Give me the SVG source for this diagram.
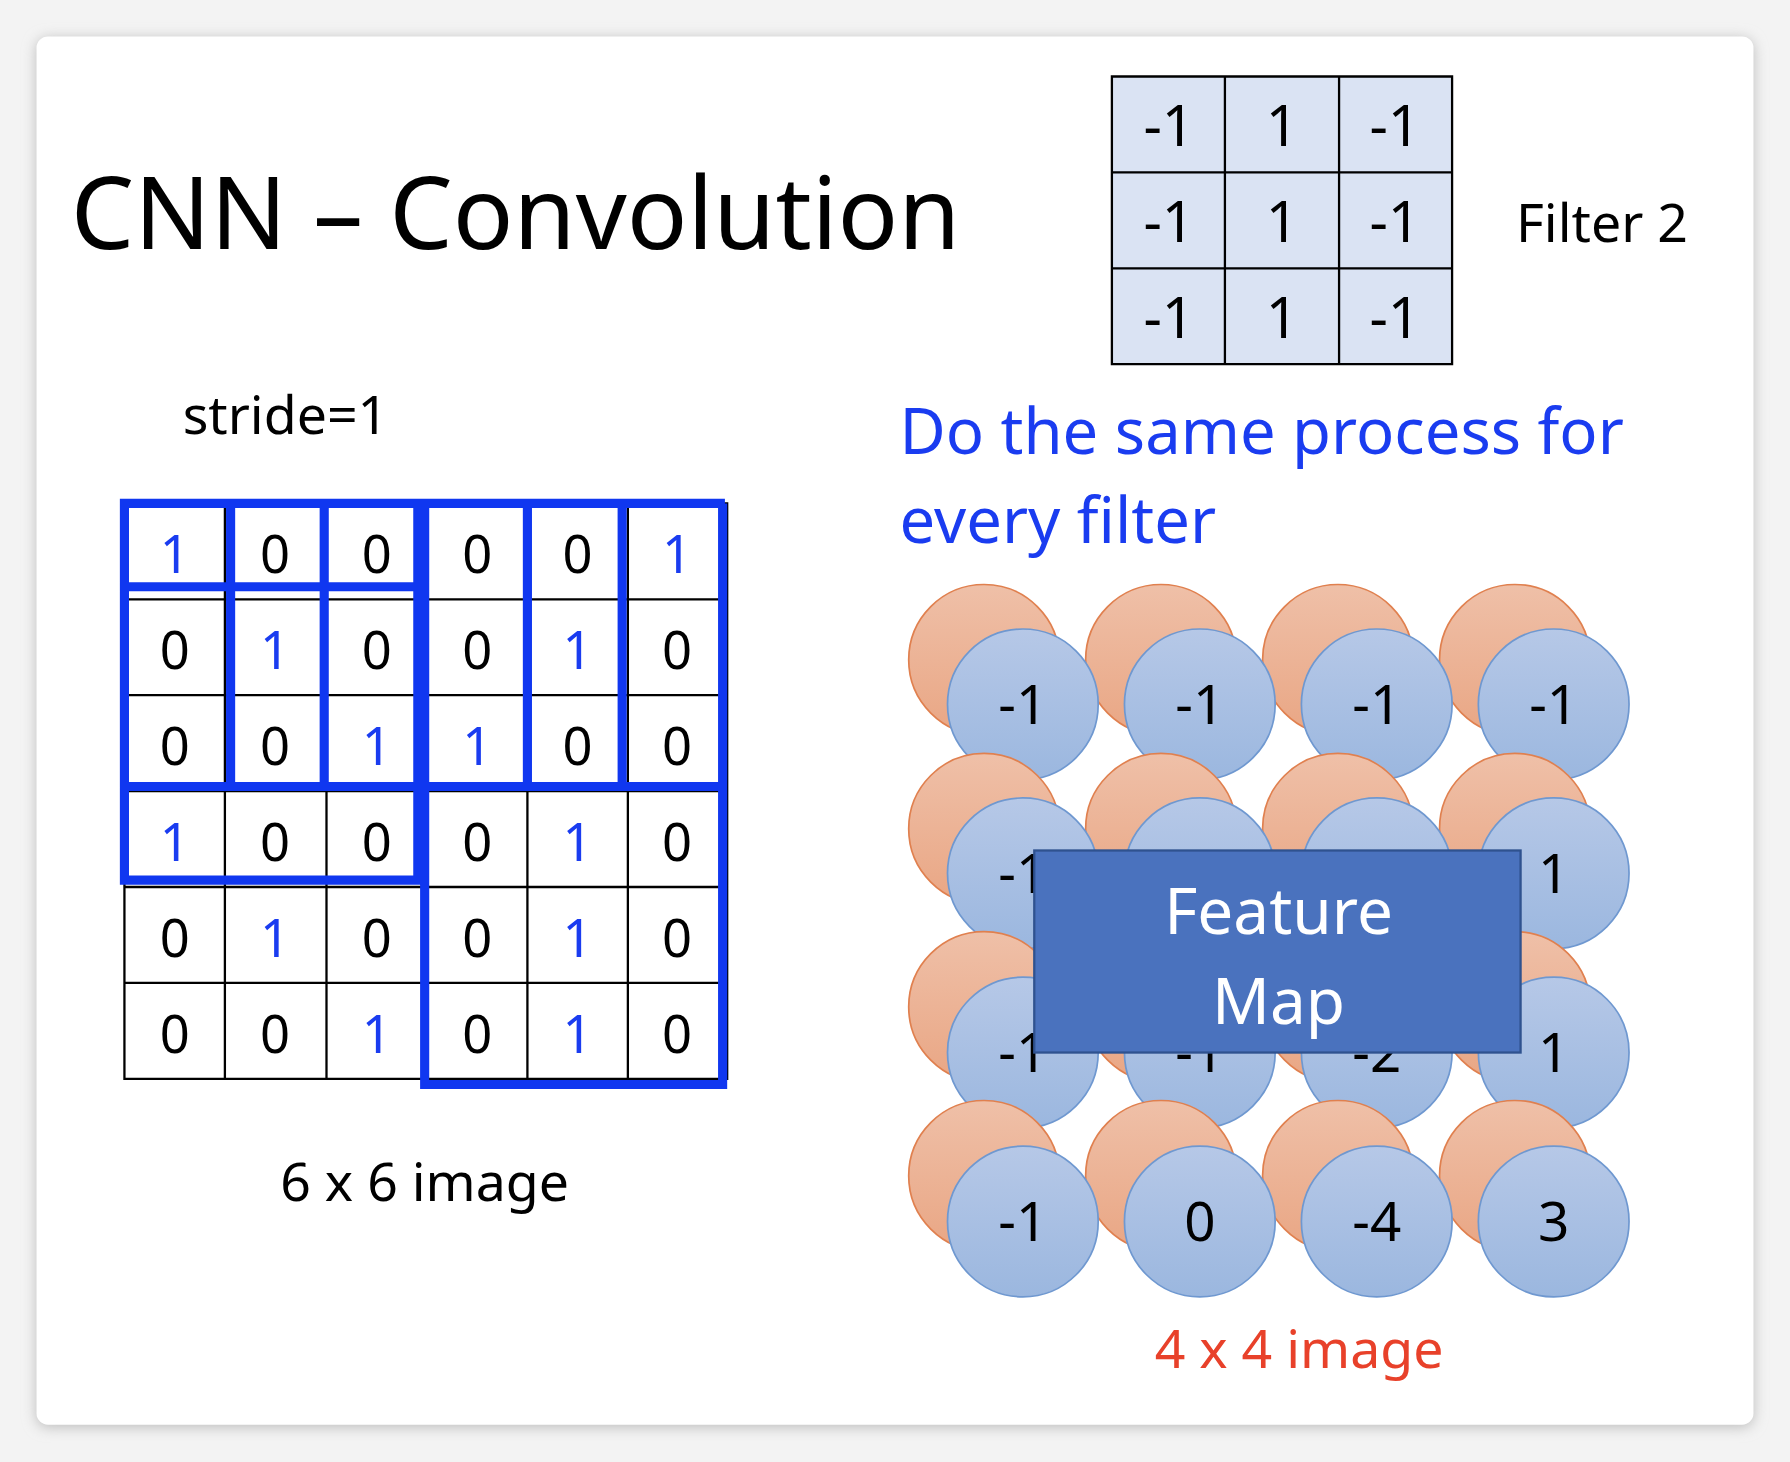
<svg xmlns="http://www.w3.org/2000/svg" width="1790" height="1462" viewBox="0 0 1790 1462">
<defs>
<linearGradient id="og" x1="0" y1="0" x2="0" y2="1"><stop offset="0" stop-color="#efc0a8"/><stop offset="1" stop-color="#e9a684"/></linearGradient>
<linearGradient id="bg" x1="0" y1="0" x2="0" y2="1"><stop offset="0" stop-color="#b6c8e7"/><stop offset="1" stop-color="#9bb7df"/></linearGradient>
<filter id="sh" x="-5%" y="-5%" width="110%" height="110%"><feGaussianBlur stdDeviation="6"/></filter>
</defs>
<style>
text{font-family:"Noto Sans","Liberation Sans",sans-serif}
.c{text-anchor:middle}
.g{fill:none;stroke:#000;stroke-width:2}
.w{fill:none;stroke:#1037f0;stroke-width:8}
.o{fill:url(#og);stroke:#e0804f;stroke-width:1.5}
.b{fill:url(#bg);stroke:#6f98d0;stroke-width:1.5}
.n{font-size:46px;text-anchor:middle}
.bl{fill:#1a3cf0}
</style>
<rect width="1790" height="1462" fill="#f3f3f3"/>
<g transform="scale(1.14158)">
<rect x="32" y="34" width="1504" height="1216" rx="10" fill="#bbb" filter="url(#sh)"/>
<rect x="32" y="32" width="1504" height="1216" rx="10" fill="#fff"/>
<text id="title" x="62" y="218" font-size="88">CNN – Convolution</text>
<g id="filter">
<rect x="974" y="67" width="298" height="252" fill="#dae3f3"/>
<path class="g" d="M974 67H1272V319H974Z M1073 67V319 M1173 67V319 M974 151H1272 M974 235H1272"/>
<g font-size="50" class="c">
<text class="c" x="1024" y="128">-1</text><text class="c" x="1123" y="128">1</text><text class="c" x="1222" y="128">-1</text>
<text class="c" x="1024" y="212">-1</text><text class="c" x="1123" y="212">1</text><text class="c" x="1222" y="212">-1</text>
<text class="c" x="1024" y="296">-1</text><text class="c" x="1123" y="296">1</text><text class="c" x="1222" y="296">-1</text>
</g>
</g>
<text id="filterlabel" x="1328" y="212" font-size="47">Filter 2</text>
<text id="stride" x="160" y="380" font-size="47">stride=1</text>
<g id="image">
<path class="g" d="M109 441H637V945H109Z M197 441V945 M286 441V945 M374 441V945 M462 441V945 M550 441V945 M109 525H637 M109 609H637 M109 693H637 M109 777H637 M109 861H637"/>
<g>
<text class="n bl" x="153" y="502">1</text><text class="n" x="241" y="502">0</text><text class="n" x="330" y="502">0</text><text class="n" x="418" y="502">0</text><text class="n" x="506" y="502">0</text><text class="n bl" x="593" y="502">1</text>
<text class="n" x="153" y="586">0</text><text class="n bl" x="241" y="586">1</text><text class="n" x="330" y="586">0</text><text class="n" x="418" y="586">0</text><text class="n bl" x="506" y="586">1</text><text class="n" x="593" y="586">0</text>
<text class="n" x="153" y="670">0</text><text class="n" x="241" y="670">0</text><text class="n bl" x="330" y="670">1</text><text class="n bl" x="418" y="670">1</text><text class="n" x="506" y="670">0</text><text class="n" x="593" y="670">0</text>
<text class="n bl" x="153" y="754">1</text><text class="n" x="241" y="754">0</text><text class="n" x="330" y="754">0</text><text class="n" x="418" y="754">0</text><text class="n bl" x="506" y="754">1</text><text class="n" x="593" y="754">0</text>
<text class="n" x="153" y="838">0</text><text class="n bl" x="241" y="838">1</text><text class="n" x="330" y="838">0</text><text class="n" x="418" y="838">0</text><text class="n bl" x="506" y="838">1</text><text class="n" x="593" y="838">0</text>
<text class="n" x="153" y="922">0</text><text class="n" x="241" y="922">0</text><text class="n bl" x="330" y="922">1</text><text class="n" x="418" y="922">0</text><text class="n bl" x="506" y="922">1</text><text class="n" x="593" y="922">0</text>
</g>
<path class="w" d="M105 441H635 M109 437V775 M105 771H368 M366 441V775 M109 514H368 M202 441V690 M284 441V690 M109 689H635 M372 441V954 M462 441V690 M545 441V690 M633 441V954 M370 950H637"/>
</g>
<text id="imglabel" class="c" x="372" y="1052" font-size="47">6 x 6 image</text>
<text id="note" class="bl" font-size="55.5"><tspan x="788" y="398">Do the same process for</tspan><tspan x="788" y="476">every filter</tspan></text>
<g id="circles">
<circle class="o" cx="862" cy="578" r="66"/><circle class="o" cx="1017" cy="578" r="66"/><circle class="o" cx="1172" cy="578" r="66"/><circle class="o" cx="1327" cy="578" r="66"/>
<circle class="b" cx="896" cy="617" r="66"/><circle class="b" cx="1051" cy="617" r="66"/><circle class="b" cx="1206" cy="617" r="66"/><circle class="b" cx="1361" cy="617" r="66"/>
<circle class="o" cx="862" cy="726" r="66"/><circle class="o" cx="1017" cy="726" r="66"/><circle class="o" cx="1172" cy="726" r="66"/><circle class="o" cx="1327" cy="726" r="66"/>
<circle class="b" cx="896" cy="765" r="66"/><circle class="b" cx="1051" cy="765" r="66"/><circle class="b" cx="1206" cy="765" r="66"/><circle class="b" cx="1361" cy="765" r="66"/>
<circle class="o" cx="862" cy="882" r="66"/><circle class="o" cx="1017" cy="882" r="66"/><circle class="o" cx="1172" cy="882" r="66"/><circle class="o" cx="1327" cy="882" r="66"/>
<circle class="b" cx="896" cy="922" r="66"/><circle class="b" cx="1051" cy="922" r="66"/><circle class="b" cx="1206" cy="922" r="66"/><circle class="b" cx="1361" cy="922" r="66"/>
<circle class="o" cx="862" cy="1030" r="66"/><circle class="o" cx="1017" cy="1030" r="66"/><circle class="o" cx="1172" cy="1030" r="66"/><circle class="o" cx="1327" cy="1030" r="66"/>
<circle class="b" cx="896" cy="1070" r="66"/><circle class="b" cx="1051" cy="1070" r="66"/><circle class="b" cx="1206" cy="1070" r="66"/><circle class="b" cx="1361" cy="1070" r="66"/>
<g font-size="48">
<text class="c" x="896" y="634">-1</text><text class="c" x="1051" y="634">-1</text><text class="c" x="1206" y="634">-1</text><text class="c" x="1361" y="634">-1</text>
<text class="c" x="896" y="782">-1</text><text class="c" x="1361" y="782">1</text>
<text class="c" x="896" y="939">-1</text><text class="c" x="1051" y="939">-1</text><text class="c" x="1206" y="939">-2</text><text class="c" x="1361" y="939">1</text>
<text class="c" x="896" y="1087">-1</text><text class="c" x="1051" y="1087">0</text><text class="c" x="1206" y="1087">-4</text><text class="c" x="1361" y="1087">3</text>
</g>
</g>
<g id="featuremap">
<rect x="906" y="745" width="426" height="177" fill="#4a72be" stroke="#2f528f" stroke-width="2"/>
<text class="c" x="1120" y="818" font-size="56" fill="#fff">Feature</text>
<text class="c" x="1120" y="897" font-size="56" fill="#fff">Map</text>
</g>
<text id="outlabel" class="c" x="1138" y="1198" font-size="47" fill="#e8412a">4 x 4 image</text>
</g>
</svg>
